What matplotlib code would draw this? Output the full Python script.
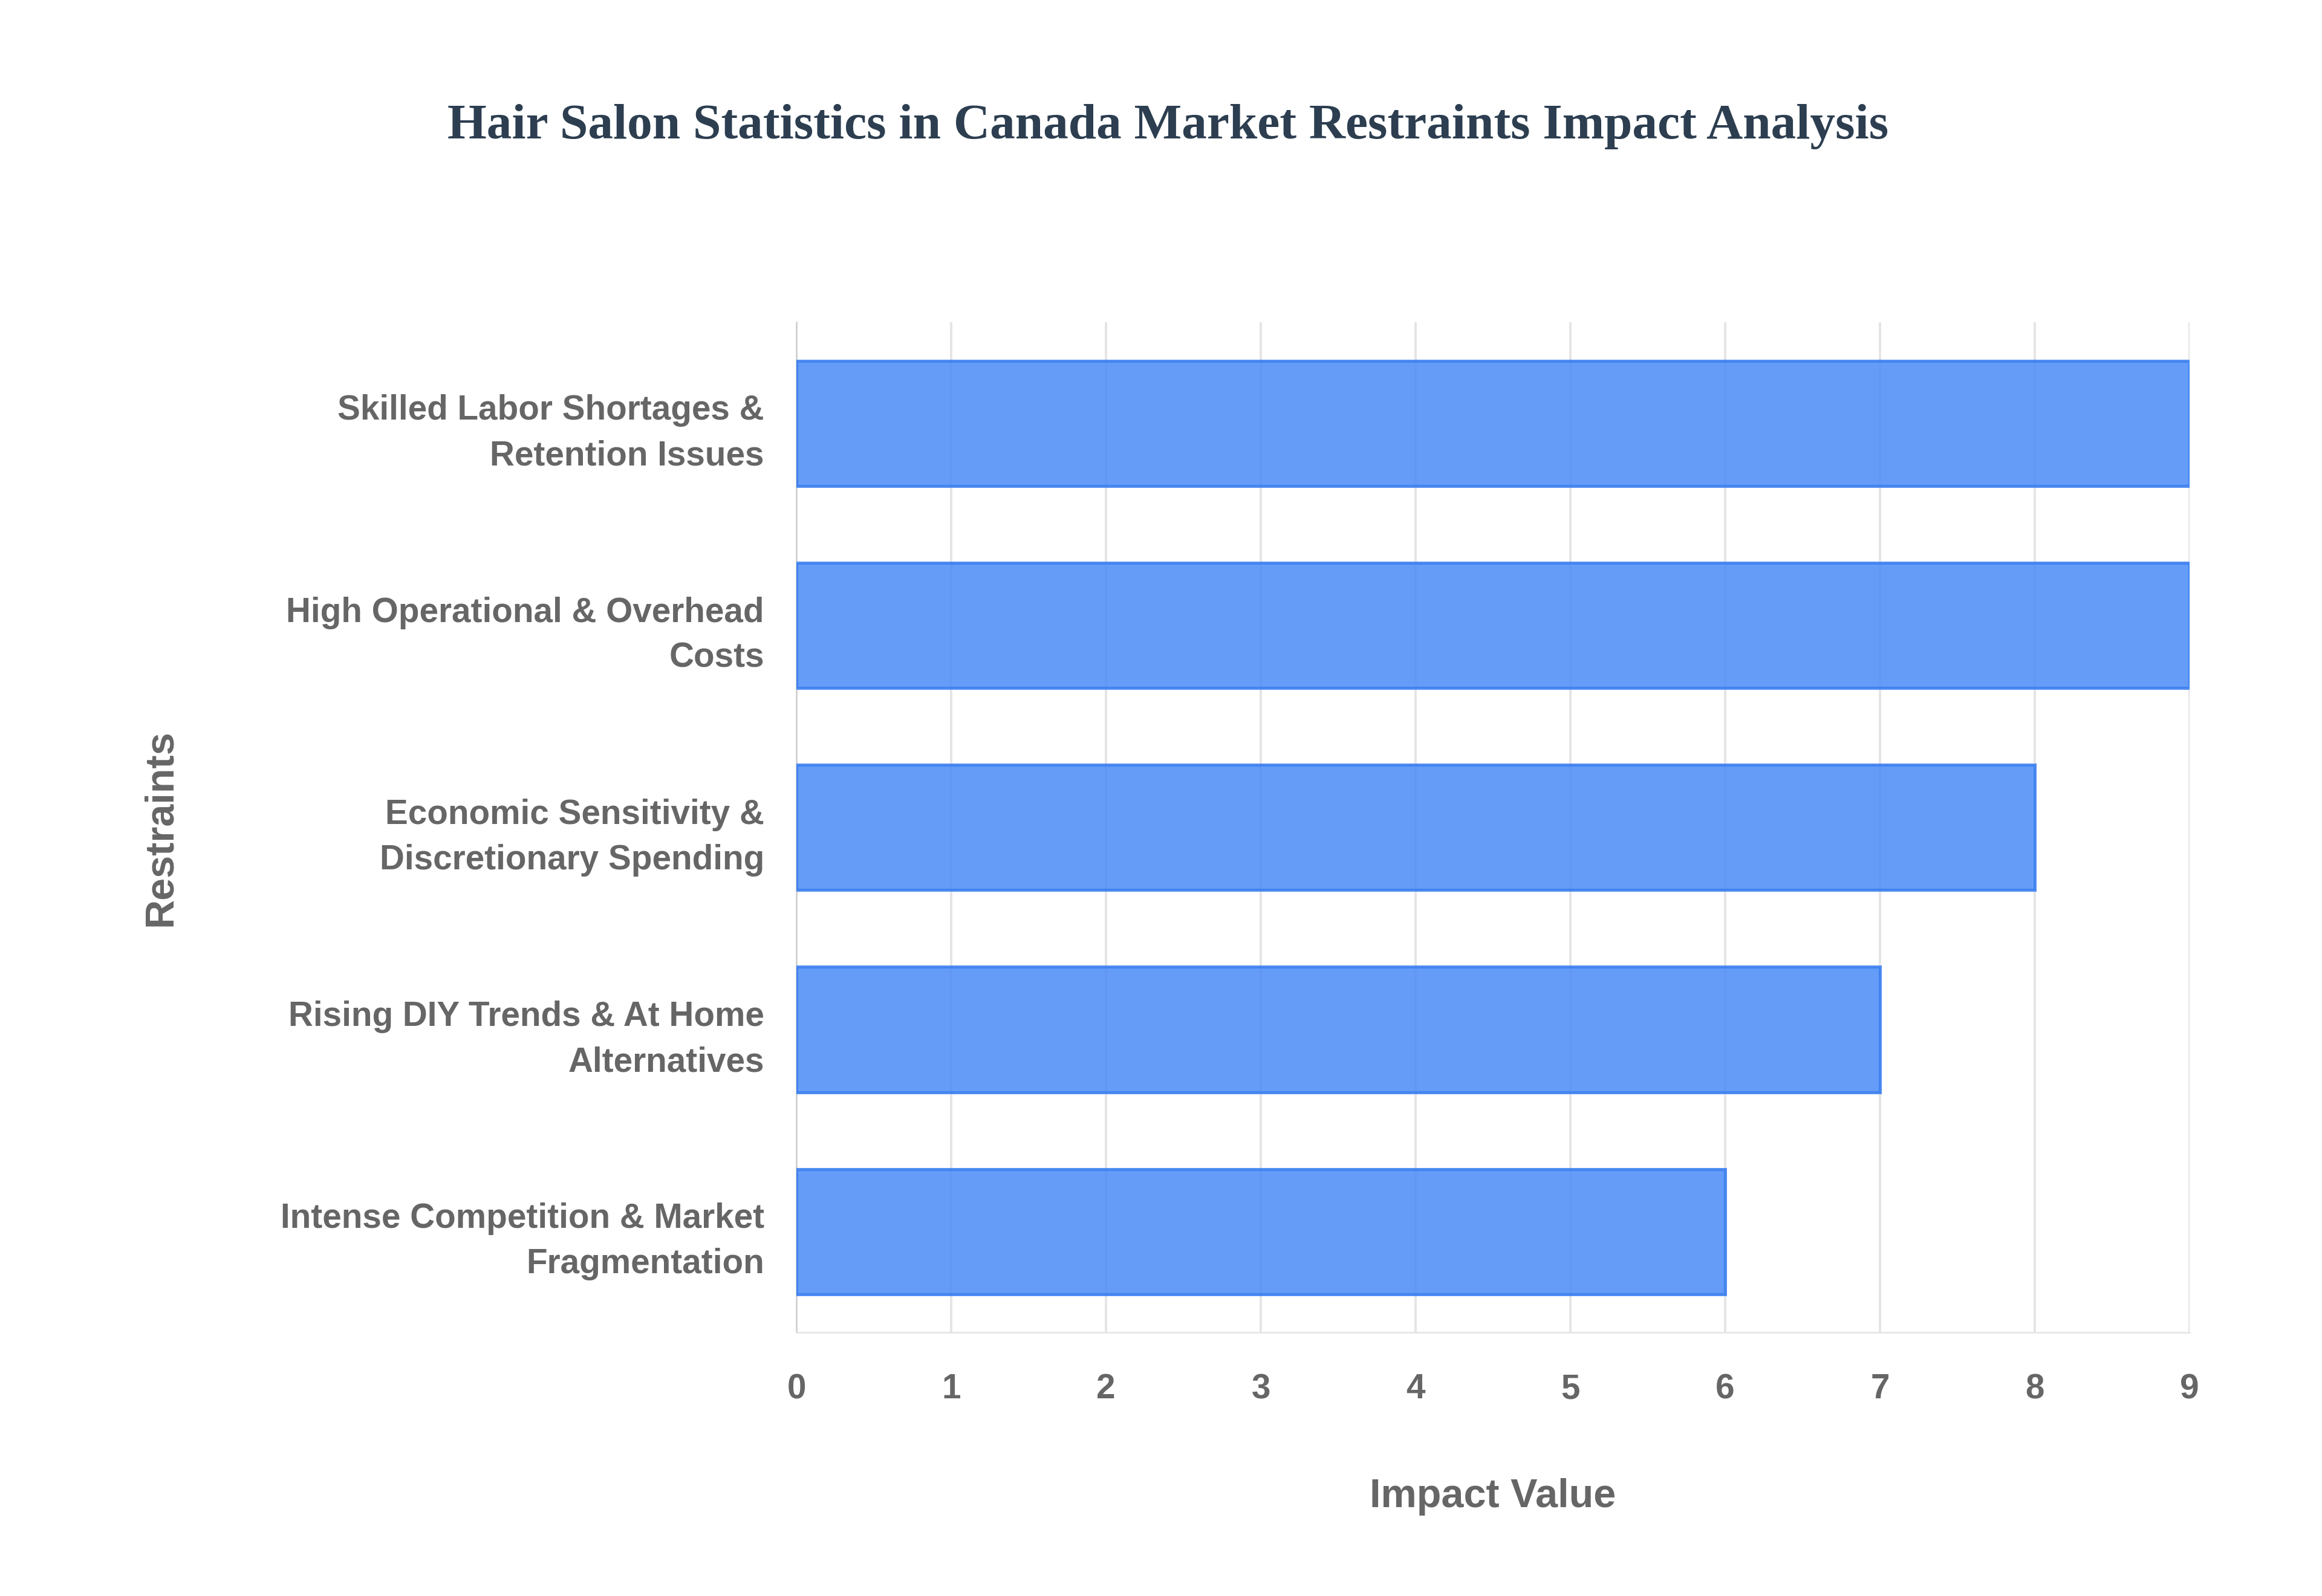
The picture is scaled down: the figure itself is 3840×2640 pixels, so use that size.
import matplotlib.pyplot as plt

restraints = [
    "Skilled Labor Shortages &\nRetention Issues",
    "High Operational & Overhead\nCosts",
    "Economic Sensitivity &\nDiscretionary Spending",
    "Rising DIY Trends & At Home\nAlternatives",
    "Intense Competition & Market\nFragmentation",
]
impact = [9, 9, 8, 7, 6]
xticks = [0, 1, 2, 3, 4, 5, 6, 7, 8, 9]

fig = plt.figure(figsize=(16, 11), dpi=240)
ax = fig.add_axes([0.343, 0.165, 0.600, 0.633])

y = list(range(len(restraints)))[::-1]
ax.barh(y, impact, height=0.62, color="#4F8EF7", alpha=0.88,
        edgecolor="#3B7FEF", linewidth=1.5, zorder=3)

ax.set_xlim(0, 9)
ax.set_ylim(-0.5, 4.5)
ax.set_xticks(xticks)
ax.set_yticks(y)
ax.set_yticklabels(restraints, linespacing=1.5)
ax.grid(axis="x", color="#e5e5e5", linewidth=1.2, zorder=0)

for lab in ax.get_xticklabels() + ax.get_yticklabels():
    lab.set_family("Liberation Sans")
    lab.set_fontweight("bold")
    lab.set_color("#666666")
    lab.set_fontsize(17)

ax.tick_params(axis="y", length=0, pad=16)
ax.tick_params(axis="x", length=0, pad=20)
for s in ["top", "right"]:
    ax.spines[s].set_visible(False)
ax.spines["left"].set_color("#d0d0d0")
ax.spines["bottom"].set_color("#e5e5e5")

ax.set_xlabel("Impact Value", family="Liberation Sans", fontweight="bold",
              color="#666666", fontsize=20, labelpad=36)
ax.set_ylabel("Restraints", family="Liberation Sans", fontweight="bold",
              color="#666666", fontsize=20, labelpad=50)

fig.suptitle("Hair Salon Statistics in Canada Market Restraints Impact Analysis",
             x=0.503, y=0.935, family="Liberation Serif", fontweight="bold",
             color="#2c3e50", fontsize=25)

fig.savefig("out.png", dpi=240, facecolor="white")
